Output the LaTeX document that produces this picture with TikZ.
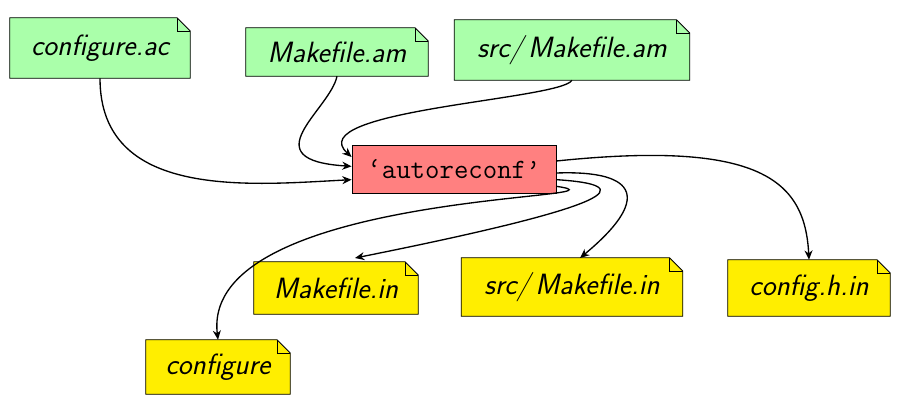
\documentclass[tikz,border=0pt]{standalone}
\usetikzlibrary{arrows.meta,backgrounds}
\definecolor{ngreen}{RGB}{170,255,170}
\definecolor{nyellow}{RGB}{255,238,0}
\definecolor{nred}{RGB}{255,128,128}
\begin{document}
\begin{tikzpicture}[x=0.75pt,y=-0.75pt,
  note/.style={inner sep=0pt,font=\fontsize{22}{25}\selectfont\sffamily\itshape},
  conn/.style={-{Stealth[length=7pt,width=6pt]},line width=1pt}]
\useasboundingbox (0,0) rectangle (907,409);
\newcommand\mynote[6]{%
  \node[note,minimum width=#4*0.75pt,minimum height=#5*0.75pt] (#1) at (#2,#3) {#6};
}
\newcommand\drawnote[2]{%
  \fill[#2,draw=black,line width=0.6pt] (#1.south west) -- (#1.south east) -- ([yshift=-10pt]#1.north east) -- ([xshift=-10pt]#1.north east) -- (#1.north west) -- cycle;
  \draw[line width=0.6pt] ([yshift=-10pt]#1.north east) -- ([xshift=-10pt,yshift=-10pt]#1.north east) -- ([xshift=-10pt]#1.north east);
}
\mynote{ca}{100}{48}{180}{60}{configure.ac}
\mynote{ma}{337}{52}{182}{48}{Makefile.am}
\mynote{sma}{572}{50}{235}{60}{src/\,Makefile.am}
\mynote{mi}{336}{288}{164}{52}{Makefile.in}
\mynote{smi}{572}{287}{221}{58}{src/\,Makefile.in}
\mynote{ch}{809}{288}{162}{56}{config.h.in}
\mynote{cf}{218}{367}{144}{54}{configure}
\begin{scope}[on background layer]
\drawnote{ca}{ngreen}\drawnote{ma}{ngreen}\drawnote{sma}{ngreen}
\drawnote{mi}{nyellow}\drawnote{smi}{nyellow}\drawnote{ch}{nyellow}\drawnote{cf}{nyellow}
\end{scope}
\node[draw,fill=nred,line width=0.6pt,minimum width=204*0.75pt,minimum height=48*0.75pt,inner sep=0pt,font=\fontsize{21}{24}\selectfont\ttfamily] (ar) at (454,169) {\textquoteleft autoreconf\textquoteright};
\draw[conn] (ca.south) .. controls (100,200) and (250,185) .. ([yshift=-8pt]ar.west);
\draw[conn] (ma.south) .. controls (330,110) and (250,160) .. ([yshift=2pt]ar.west);
\draw[conn] (sma.south) .. controls (560,100) and (300,110) .. ([yshift=9pt]ar.west);
\draw[conn] ([yshift=6pt]ar.east) .. controls (760,140) and (805,180) .. (ch.north);
\draw[conn] ([yshift=-3pt]ar.east) .. controls (640,170) and (650,200) .. (580,258);
\draw[conn] ([yshift=-8pt]ar.east) .. controls (640,185) and (620,205) .. (355,258);
\draw[conn] ([yshift=-13pt]ar.east) .. controls (650,200) and (200,190) .. (cf.north);
\end{tikzpicture}
\end{document}
